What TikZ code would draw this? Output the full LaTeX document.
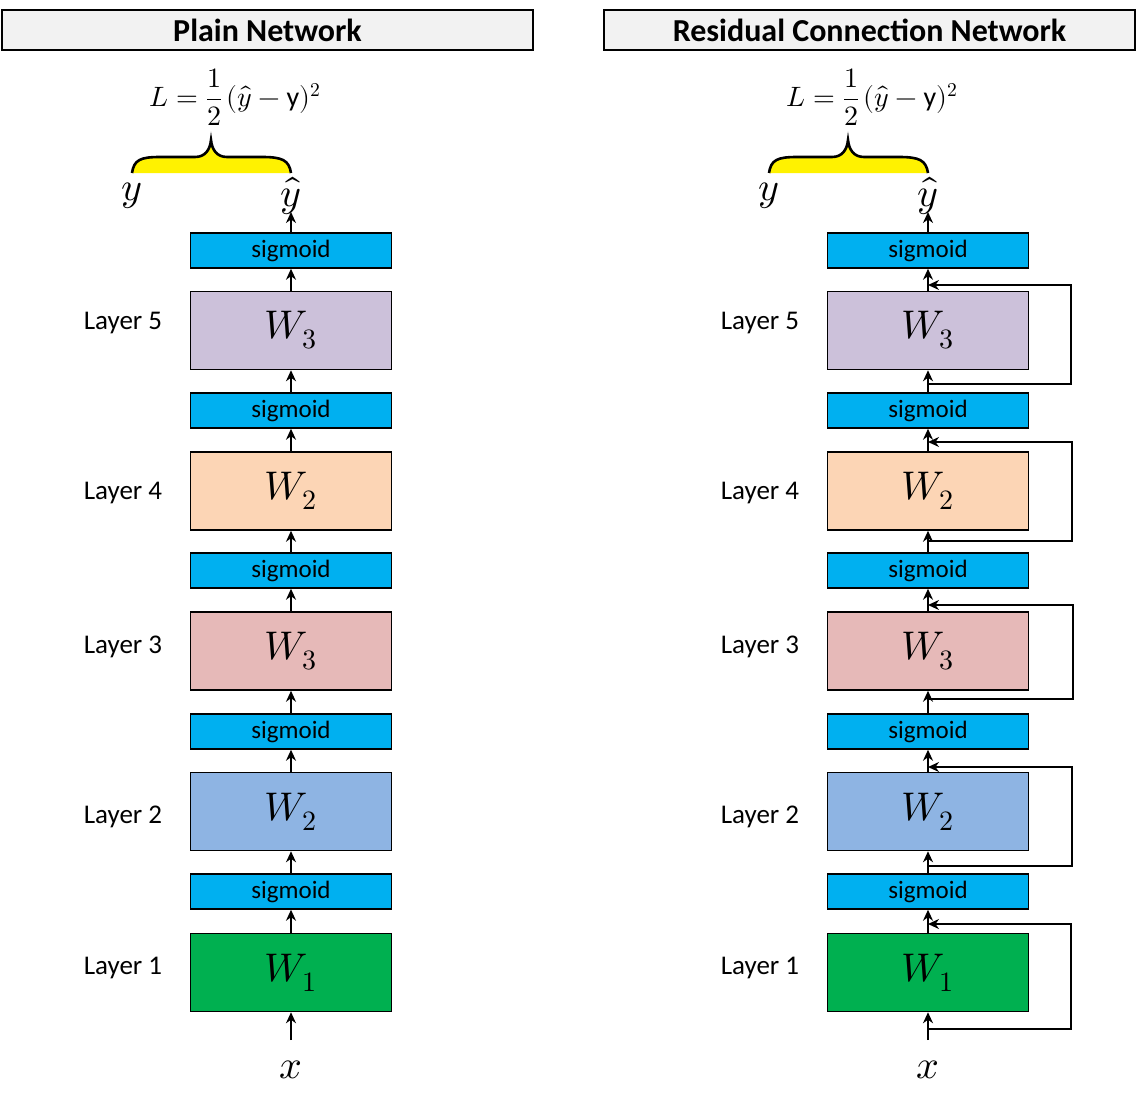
\documentclass[tikz,border=0pt]{standalone}
\usepackage{fontspec}
\setmainfont{Carlito}
\usepackage{unicode-math}
\setmathfont{Latin Modern Math}
\usetikzlibrary{arrows.meta}
\definecolor{sig}{HTML}{00B0F0}
\definecolor{cA}{HTML}{00B050}
\definecolor{cB}{HTML}{8EB4E3}
\definecolor{cC}{HTML}{E6B9B8}
\definecolor{cD}{HTML}{FCD5B5}
\definecolor{cE}{HTML}{CCC1DA}
\tikzset{
 sigbox/.style={draw=black,line width=1.5pt,fill=sig,minimum width=201pt,minimum height=35pt,inner sep=0pt,font=\fontsize{25}{27}\selectfont},
 wbox/.style={draw=black,line width=1.5pt,minimum width=201pt,minimum height=78pt,inner sep=0pt,font=\fontsize{40}{42}\selectfont},
 lab/.style={font=\fontsize{27}{29}\selectfont},
 arr/.style={line width=2.6pt,-{Stealth[length=11pt,width=10pt]}},
 res/.style={line width=2.6pt,-{Stealth[length=11pt,width=10pt]}},
 title/.style={draw=black,line width=1.5pt,fill=black!5,minimum height=40pt,inner sep=0pt,font=\bfseries\fontsize{32}{34}\selectfont},
 brace/.style={line width=2.6pt}
}
\newcommand{\netcol}[2]{%
 \begin{scope}[xshift=#1]
 \node[sigbox] (#2s5) at (291,250.5) {sigmoid};
 \node[sigbox] (#2s4) at (291,410.5) {sigmoid};
 \node[sigbox] (#2s3) at (291,570.5) {sigmoid};
 \node[sigbox] (#2s2) at (291,731.5) {sigmoid};
 \node[sigbox] (#2s1) at (291,891.5) {sigmoid};
 \node[wbox,fill=cE] (#2w5) at (291,330.5) {$W_3$};
 \node[wbox,fill=cD] (#2w4) at (291,491) {$W_2$};
 \node[wbox,fill=cC] (#2w3) at (291,651) {$W_3$};
 \node[wbox,fill=cB] (#2w2) at (291,811.5) {$W_2$};
 \node[wbox,fill=cA] (#2w1) at (291,972.5) {$W_1$};
 \node[lab] (#2l5) at (123,323) {Layer 5};
 \node[lab] (#2l4) at (123,493) {Layer 4};
 \node[lab] (#2l3) at (123,647) {Layer 3};
 \node[lab] (#2l2) at (123,817) {Layer 2};
 \node[lab] (#2l1) at (123,968) {Layer 1};
 \node[font=\fontsize{40}{42}\selectfont] (#2x) at (291,1070) {$x$};
 \node[font=\fontsize{40}{42}\selectfont] (#2yh) at (291,196) {$\hat{y}$};
 \node[font=\fontsize{40}{42}\selectfont] (#2y) at (132,196) {$y$};
 \node[font=\fontsize{28}{30}\selectfont] (#2L) at (235,97) {$L=\dfrac{1}{2}\,(\hat{y}-\mathrm{y})^2$};
 \coordinate (#2xin) at (291,1040);
 \coordinate (#2yo) at (291,212);
 \draw[arr] (#2xin) -- (#2w1.south);
 \draw[arr] (#2w1.north) -- (#2s1.south);
 \draw[arr] (#2s1.north) -- (#2w2.south);
 \draw[arr] (#2w2.north) -- (#2s2.south);
 \draw[arr] (#2s2.north) -- (#2w3.south);
 \draw[arr] (#2w3.north) -- (#2s3.south);
 \draw[arr] (#2s3.north) -- (#2w4.south);
 \draw[arr] (#2w4.north) -- (#2s4.south);
 \draw[arr] (#2s4.north) -- (#2w5.south);
 \draw[arr] (#2w5.north) -- (#2s5.south);
 \draw[arr] (#2s5.north) -- (#2yo);
 \fill[yellow] (132,173) .. controls (134,160) and (140,157) .. (160,157) -- (195,157) .. controls (205,157) and (210,150) .. (211,140) .. controls (212,150) and (217,157) .. (227,157) -- (262,157) .. controls (282,157) and (289,160) .. (291,173) -- cycle;
 \draw[brace] (132,173) .. controls (134,160) and (140,157) .. (160,157) -- (195,157) .. controls (205,157) and (210,150) .. (211,140) .. controls (212,150) and (217,157) .. (227,157) -- (262,157) .. controls (282,157) and (289,160) .. (291,173);
 \end{scope}}
\begin{document}
\begin{tikzpicture}[x=1pt,y=-1pt]
\useasboundingbox (0,0) rectangle (1136,1116);
\node[title,minimum width=531pt] (t1) at (267.5,30) {Plain Network};
\node[title,minimum width=531pt] (t2) at (869.5,30) {Residual Connection Network};
\netcol{0pt}{a}
\netcol{637pt}{b}
\begin{scope}[xshift=637pt]
\coordinate (r1a) at (291,1029); \coordinate (r1b) at (291,924);
\coordinate (r2a) at (291,866); \coordinate (r2b) at (291,767);
\coordinate (r3a) at (291,699); \coordinate (r3b) at (291,605);
\coordinate (r4a) at (291,541); \coordinate (r4b) at (291,442);
\coordinate (r5a) at (291,384); \coordinate (r5b) at (291,285);
\draw[res] (r1a) -- ++(143,0) |- (r1b);
\draw[res] (r2a) -- ++(144,0) |- (r2b);
\draw[res] (r3a) -- ++(145,0) |- (r3b);
\draw[res] (r4a) -- ++(144,0) |- (r4b);
\draw[res] (r5a) -- ++(143,0) |- (r5b);
\end{scope}
\end{tikzpicture}
\end{document}
